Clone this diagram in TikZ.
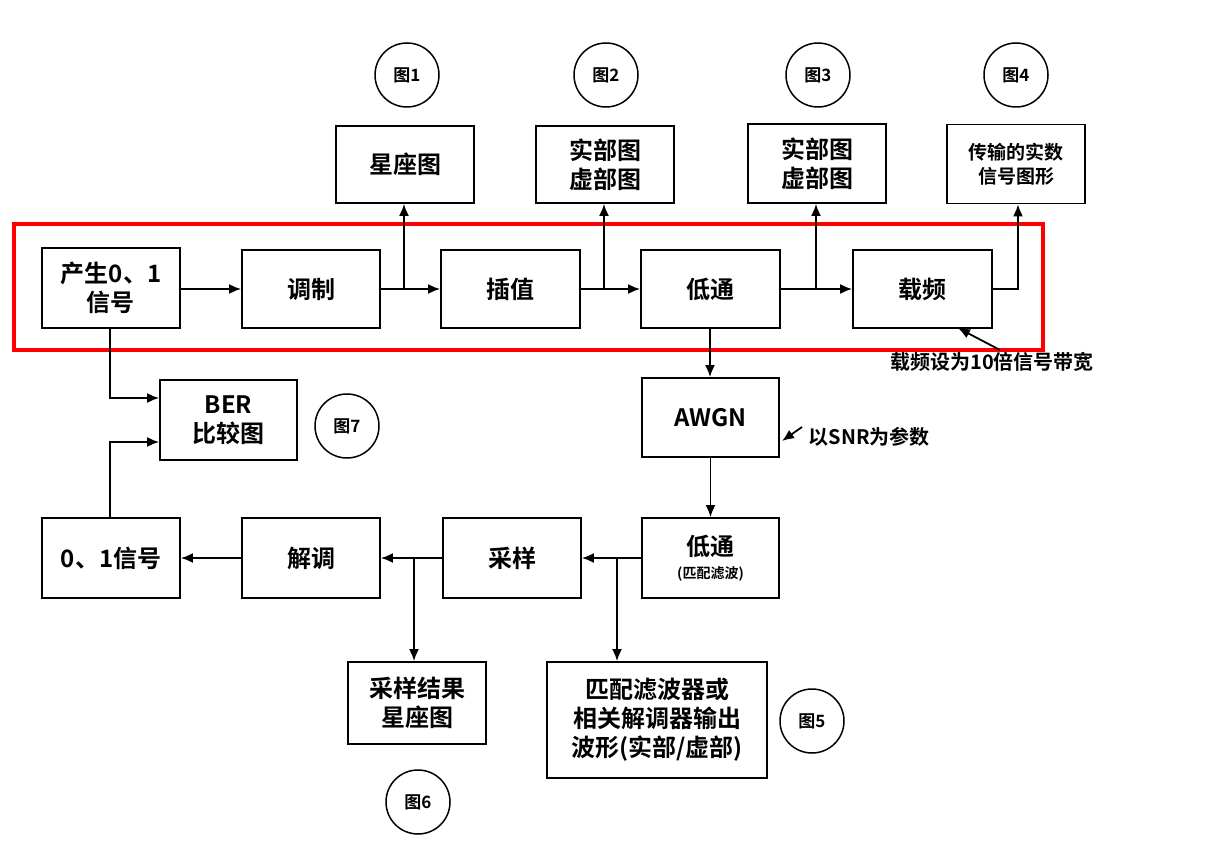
\documentclass[tikz,border=0pt]{standalone}
\usepackage{fontspec}
\setmainfont{Noto Sans CJK SC Bold}
\usetikzlibrary{arrows.meta}
\begin{document}
\begin{tikzpicture}[x=1pt,y=-1pt,
  box/.style={draw,line width=1.8pt,inner sep=0pt,align=center,font=\fontsize{24}{29}\selectfont},
  circ/.style={draw,circle,line width=1.5pt,minimum size=64pt,inner sep=0pt,font=\fontsize{17}{20}\selectfont},
  ar/.style={line width=1.8pt,-{Latex[length=12pt,width=10pt]}},
  ln/.style={line width=1.8pt}]
\useasboundingbox[fill=white] (0,0) rectangle (1210,853);
\newcommand\bx[6]{\node[box,minimum width=#3-#2,minimum height=#5-#4] (#1) at ({(#2+#3)/2},{(#4+#5)/2}) {#6};}
\bx{gen}{42}{180}{248}{328}{产生0、1\\信号}
\bx{mod}{242}{380}{250}{328}{调制}
\bx{ins}{441}{580}{250}{328}{插值}
\bx{lp}{641}{780}{250}{328}{低通}
\bx{car}{853}{992}{250}{328}{载频}
\bx{b1}{336}{474}{126}{203}{星座图}
\bx{b2}{536}{674}{126}{203}{实部图\\虚部图}
\bx{b3}{748}{886}{124}{203}{实部图\\虚部图}
\node[box,minimum width=138pt,minimum height=79pt,font=\fontsize{19}{24}\selectfont] (b4) at (1016,164) {传输的实数\\信号图形};
\draw[red,line width=4pt] (14,224) rectangle (1043,350);
\node[circ] (c1) at (407,75) {图1};
\node[circ] (c2) at (606,75) {图2};
\node[circ] (c3) at (818,75) {图3};
\node[circ] (c4) at (1016,75) {图4};
\bx{ber}{160}{297}{380}{460}{BER\\比较图}
\node[circ] (c7) at (347,426) {图7};
\bx{awgn}{642}{779}{378}{457}{AWGN}
\node[box,minimum width=137pt,minimum height=80pt] (lp2) at (710.5,558) {低通\\[-6pt]{\fontsize{14}{16}\selectfont (匹配滤波)}};
\bx{samp}{443}{581}{518}{598}{采样}
\bx{dem}{242}{380}{518}{598}{解调}
\bx{out}{42}{180}{518}{598}{0、1信号}
\bx{sres}{348}{486}{662}{744}{采样结果\\星座图}
\bx{mf}{547}{767}{662}{778}{匹配滤波器或\\相关解调器输出\\波形(实部/虚部)}
\node[circ] (c5) at (812,721) {图5};
\node[circ] (c6) at (418,802) {图6};
\node[font=\fontsize{20}{22}\selectfont] (t1) at (992,362) {载频设为10倍信号带宽};
\node[font=\fontsize{20}{22}\selectfont,anchor=west] (t2) at (805,437) {以SNR为参数};
\draw[ar] (gen.east|-mod) -- (mod);
\draw[ar] (mod) -- (ins);
\draw[ar] (ins) -- (lp);
\draw[ar] (lp) -- (car);
\draw[ar] (404,289) -- (b1.south-|404,0);
\draw[ar] (604,289) -- (b2.south-|604,0);
\draw[ar] (816,289) -- (b3.south-|816,0);
\draw[ar] (car.east) -- (1018,289) -- (b4.south-|1018,0);
\draw[ar] (lp.south-|710,0) -- (awgn.north-|710,0);
\draw[ar] (awgn) -- (lp2);
\draw[ar] (lp2) -- (samp);
\draw[ar] (samp) -- (dem);
\draw[ar] (dem) -- (out);
\draw[ar] (617,558) -- (mf.north-|617,0);
\draw[ar] (414,558) -- (sres.north-|414,0);
\draw[ar] (gen.south-|110,0) -- (110,398) -- (ber.west|-0,398);
\draw[ar] (out.north-|110,0) -- (110,442) -- (ber.west|-0,442);
\coordinate (a1) at (1000,350);
\draw[ar] (a1) -- (958,328);
\coordinate (a2) at (802,427);
\draw[ar] (a2) -- (782,441);
\end{tikzpicture}
\end{document}
